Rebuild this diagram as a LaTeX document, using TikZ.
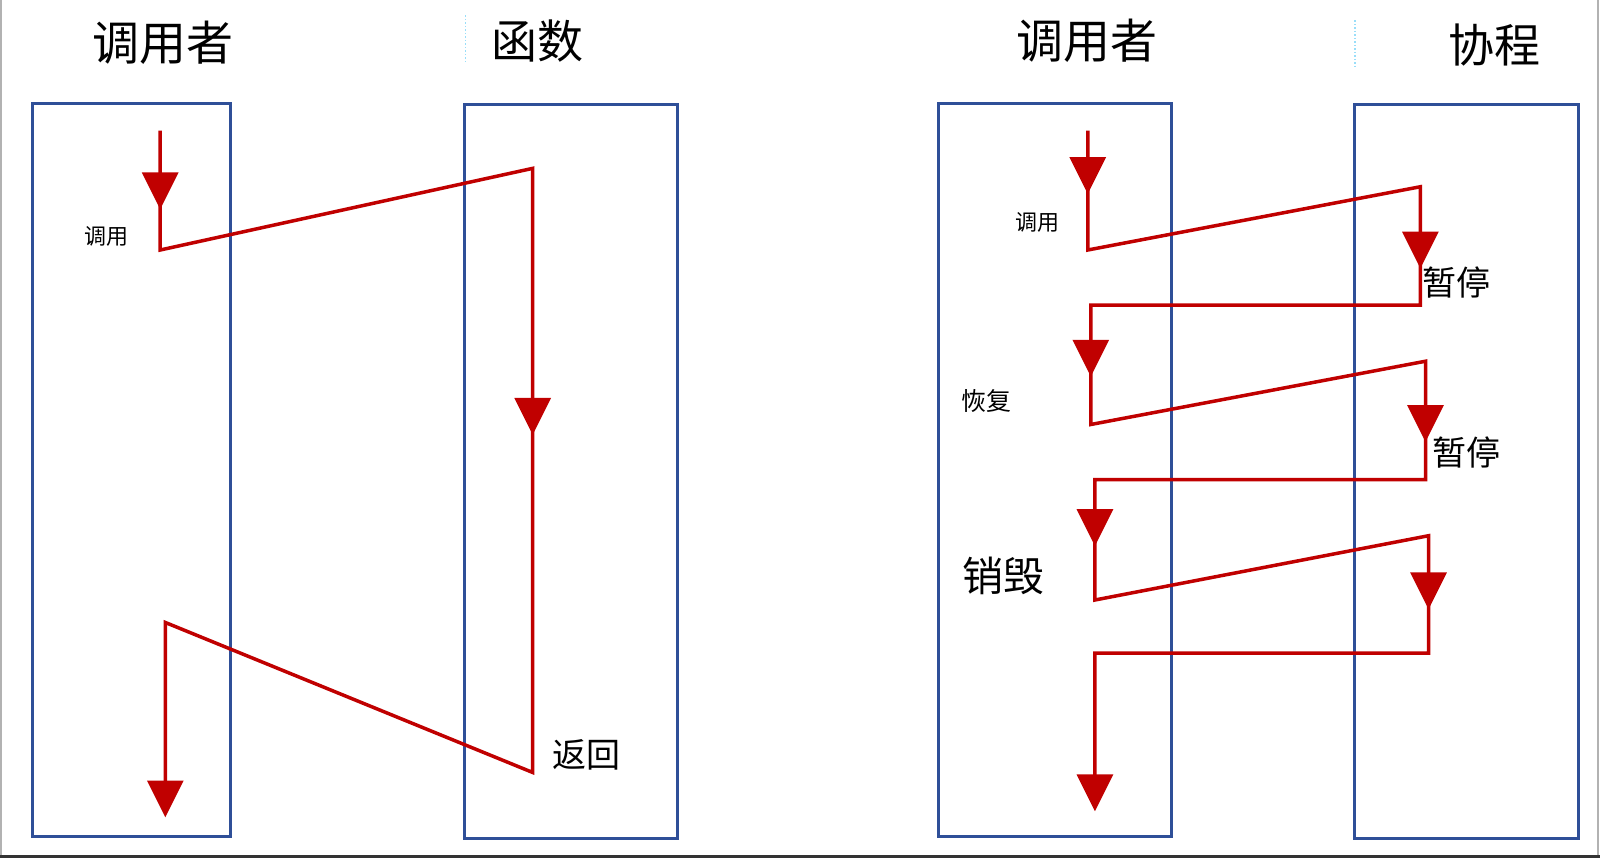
\documentclass[tikz,border=0pt]{standalone}
\usepackage{fontspec}
\newfontfamily\cjk{Noto Sans CJK SC}
\definecolor{boxblue}{HTML}{2F4F98}
\definecolor{flowred}{HTML}{C00000}
\tikzset{
  lane/.style={draw=boxblue,line width=3pt},
  flow/.style={draw=flowred,line width=3.5pt,line join=miter},
  lbl/.style={inner sep=0pt,font=\cjk},
  tri/.pic={\fill[flowred] (-18,-18) -- (18,-18) -- (0,18) -- cycle;}
}
\begin{document}
\begin{tikzpicture}[x=1.0204pt,y=-1.0204pt]
\useasboundingbox (0,0) rectangle (1568,841);
\fill[white] (0,0) rectangle (1568,841);
\draw[gray!60,line width=1.5pt] (1,0) -- (1,838);
\draw[gray!60,line width=1.5pt] (1566,0) -- (1566,838);
\draw[black!80,line width=3pt] (0,839) -- (1568,839);
% boxes
\draw[lane] (32,101) rectangle (226,820);
\draw[lane] (455,102) rectangle (664,822);
\draw[lane] (920,101) rectangle (1148,820);
\draw[lane] (1327,102) rectangle (1547,822);
% titles
\node[lbl,font=\cjk\fontsize{47}{50}\selectfont] (t1) at (160,42) {调用者};
\node[lbl,font=\cjk\fontsize{46}{50}\selectfont] (t2) at (527,40) {函数};
\node[lbl,font=\cjk\fontsize{47}{50}\selectfont] (t3) at (1065,40) {调用者};
\node[lbl,font=\cjk\fontsize{46}{50}\selectfont] (t4) at (1465,44) {协程};
\draw[cyan!40,dotted,line width=1.5pt] (456,15) -- (456,62);
\draw[cyan!40,dotted,line width=1.5pt] (1328,20) -- (1328,66);
% left flow
\draw[flow] (157,128) -- (157,245) -- (522,165) -- (522,757) -- (162,610) -- (162,770);
\pic at (157,187) {tri};
\pic at (522,408) {tri};
\pic at (162,783) {tri};
\node[lbl,font=\cjk\fontsize{22}{24}\selectfont] (a1) at (104,232) {调用};
\node[lbl,font=\cjk\fontsize{34}{36}\selectfont] (a2) at (575,740) {返回};
% right flow
\draw[flow] (1066,128) -- (1066,245) -- (1392,183) -- (1392,299) -- (1069,299) -- (1069,416) -- (1397,354) -- (1397,470) -- (1073,470) -- (1073,588) -- (1400,525) -- (1400,640) -- (1073,640) -- (1073,765);
\pic at (1066,172) {tri};
\pic at (1392,245) {tri};
\pic at (1069,351) {tri};
\pic at (1397,415) {tri};
\pic at (1073,517) {tri};
\pic at (1400,579) {tri};
\pic at (1073,777) {tri};
\node[lbl,font=\cjk\fontsize{22}{24}\selectfont] (b1) at (1017,218) {调用};
\node[lbl,font=\cjk\fontsize{34}{36}\selectfont] (b2) at (1427,277) {暂停};
\node[lbl,font=\cjk\fontsize{25}{27}\selectfont] (b3) at (967,393) {恢复};
\node[lbl,font=\cjk\fontsize{34}{36}\selectfont] (b4) at (1437,443) {暂停};
\node[lbl,font=\cjk\fontsize{41}{44}\selectfont] (b5) at (983,564) {销毁};
\end{tikzpicture}
\end{document}
